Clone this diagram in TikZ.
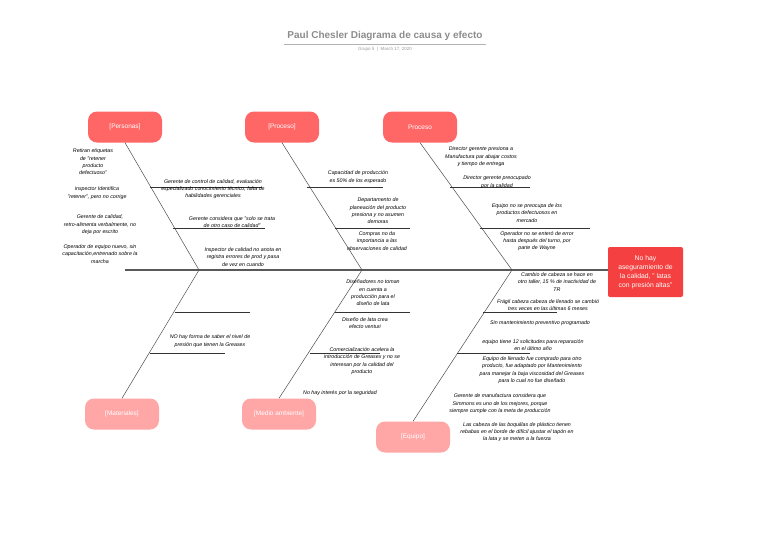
\documentclass[tikz,border=0pt]{standalone}
\usepackage{fontspec}
\setmainfont{Liberation Sans}
\begin{document}
\begin{tikzpicture}[x=1pt,y=-1pt,
 bone/.style={draw=black!70,line width=0.5pt},
 sub/.style={draw=black!80,line width=0.6pt},
 txt/.style={align=center,font=\fontsize{5.3}{7.4}\selectfont\itshape,inner sep=0pt},
 cat/.style={rounded corners=9pt,minimum width=74pt,minimum height=31pt,font=\fontsize{6.5}{8}\selectfont,text=white,inner sep=1pt},
 catA/.style={cat,fill=red!50!orange!30!pink!0!red!60!white},
 catB/.style={cat,fill=red!35!white}]
\useasboundingbox (0,0) rectangle (768,543);
\node[font=\bfseries\fontsize{10}{12}\selectfont,text=black!45] (title) at (385,36) {Paul Chesler Diagrama de causa y efecto};
\draw[black!30,line width=0.4pt] (title.south west) -- (title.south east);
\node[font=\fontsize{4.5}{6}\selectfont,text=black!40] (sub) at (385,49) {Grupo 5 \ | \ March 17, 2020};
\coordinate (s0) at (125,270); \coordinate (s1) at (608,270);
\draw[black!65,line width=1.4pt] (s0) -- (s1);
\node[fill=red!75!black!90!white,fill=red!70!black!20!red!75!white,rounded corners=2pt,minimum width=75pt,minimum height=50pt,text=white,align=center,font=\fontsize{6.8}{9}\selectfont] (head) at (645.5,272) {No hay\\aseguramiento de\\la calidad, " latas\\con presión altas"};
\node[catA] (per) at (125,127) {[Personas]};
\node[catA] (pro1) at (282,127) {[Proceso]};
\node[catA] (pro2) at (420,127) {Proceso};
\node[catB] (mat) at (122,414) {[Materiales]};
\node[catB] (med) at (279,414) {[Medio ambiente]};
\node[catB] (equ) at (413,437) {[Equipo]};
\coordinate (j1) at (199,270); \coordinate (j2) at (362,270); \coordinate (j3) at (512,270);
\draw[bone] (per.south) -- (j1);
\draw[bone] (pro1.south) -- (j2);
\draw[bone] (pro2.south) -- (j3);
\draw[bone] (mat.north) -- (j1);
\draw[bone] (med.north) -- (j2);
\draw[bone] (equ.north) -- (j3);
% sub lines
\foreach \a/\b/\y in {150/262/187, 173/265/228, 307/383/187, 335/410/228, 450/530/187, 480/590/228,
 175/250/312, 150/225/353, 335/410/312, 310/380/353, 483/557/312, 457/530/353}
 { \draw[sub] (\a,\y) -- (\b,\y); }
% Personas
\node[txt] (p1) at (93,162) {Retiran etiquetas\\de "retener\\producto\\defectuoso"};
\node[txt] (p2) at (97,193) {inspector Identifica\\"retener", pero no corrige};
\node[txt] (p3) at (100,225) {Gerente de calidad,\\retro-alimenta verbalmente, no\\deja por escrito};
\node[txt] (p4) at (100,254) {Operador de equipo nuevo, sin\\capacitación,entrenado sobre la\\marcha};
\node[txt] (p5) at (213,189) {Gerente de control de calidad, evaluación\\especializado conocimiento técnico, falta de\\habilidades gerenciales};
\node[txt] (p6) at (232,222) {Gerente considera que "solo se trata\\de otro caso de calidad"};
\node[txt] (p7) at (243,257) {Inspector de calidad no anota en\\registra errores de prod y pasa\\de vez en cuando};
% Proceso 1
\node[txt] (q1) at (358,177) {Capacidad de producción\\es 50\% de los esperado};
\node[txt] (q2) at (378,211) {Departamento de\\planeación del producto\\presiona y no asumen\\demoras};
\node[txt] (q3) at (377,241) {Compras no da\\importancia a las\\observaciones de calidad};
% Proceso 2
\node[txt] (r1) at (481,157) {Director gerente presiona a\\Manufactura par abajar costos\\y tiempo de entrega};
\node[txt] (r2) at (497,182) {Director gerente preocupado\\por la calidad};
\node[txt] (r3) at (527,213) {Equipo no se preocupa de los\\productos defectuosos en\\mercado};
\node[txt] (r4) at (537,241) {Operador no se enteró de error\\hasta después del turno, por\\parte de Wayne};
% Materiales
\node[txt] (m1) at (210,341) {NO hay forma de saber el nivel de\\presión que tienen la Greasex};
% Medio
\node[txt] (e1) at (373,293) {Diseñadores no toman\\en cuenta a\\producción para el\\diseño de lata};
\node[txt] (e2) at (365,323) {Diseño de lata crea\\efecto venturi};
\node[txt] (e3) at (362,361) {Comercialización acelera la\\introducción de Greasex  y no se\\interesan por la calidad del\\producto};
\node[txt] (e4) at (340,393) {No hay interés por la seguridad};
% Equipo
\node[txt] (k1) at (557,282) {Cambio de cabeza se hace en\\otro taller, 15 \% de inactividad de\\TR};
\node[txt] (k2) at (548,305) {Frágil cabeza cabeza de llenado se cambió\\tres veces en las últimas 6 meses};
\node[txt] (k3) at (540,323) {Sin mantenimiento preventivo programado};
\node[txt] (k4) at (533,345) {equipo tiene 12 solicitudes para reparación\\en el último año};
\node[txt] (k5) at (532,370) {Equipo de llenado fue comprado para otro\\producto, fue adaptado por Mantenimiento\\para manejar la baja viscosidad del Greasex\\para lo cual no fue diseñado};
\node[txt] (k6) at (500,404) {Gerente de manufactura considera que\\Simmons es uno de los mejores, porque\\siempre cumple con la meta de producción};
\node[txt] (k7) at (517,432) {Las cabeza de las boquillas de plástico tienen\\rebabas en el borde de difícil ajustar el tapón en\\la lata y se meten a la fuerza};
\end{tikzpicture}
\end{document}
